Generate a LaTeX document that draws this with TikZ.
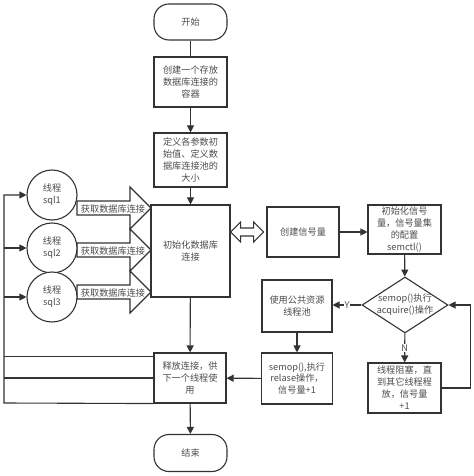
\documentclass[tikz,border=0pt]{standalone}
\usepackage{fontspec}
\setmainfont{Noto Sans CJK SC}
\usetikzlibrary{arrows.meta,shapes.geometric}
\definecolor{linec}{HTML}{333333}
\definecolor{txtc}{HTML}{4D4D4D}
\newcommand{\txtfont}{\fontsize{9.2}{12}\selectfont}
\tikzset{
  plain/.style={draw=linec, line width=1.1bp},
  flow/.style={plain, -{Triangle[length=7bp,width=7bp]}},
  box/.style={plain, fill=white, minimum width=73bp, minimum height=50bp,
    align=center, inner sep=1bp, font=\txtfont, text=txtc},
  term/.style={box, rounded corners=15bp, minimum height=36bp},
  thread/.style={plain, fill=white, circle, minimum size=50bp, inner sep=0bp,
    align=center, font=\txtfont, text=txtc},
  decision/.style={plain, fill=white, diamond, minimum width=86bp,
    minimum height=56bp, inner sep=0bp},
  txt/.style={align=center, font=\txtfont, text=txtc, inner sep=1bp},
  bigarrow/.style={plain, fill=white}
}
\begin{document}
\begin{tikzpicture}[x=1bp, y=-1bp]
  \useasboundingbox (0,0) rectangle (474,476);

  % main column
  \node[term] (start) at (190.5,22) {开始};
  \node[box] (box1) at (190.5,82) {创建一个存放\\数据库连接的\\容器};
  \node[box, minimum height=54bp] (box2) at (190.5,160) {定义各参数初\\始值、定义数\\据库连接池的\\大小};
  \node[box, minimum width=79bp, minimum height=92bp] (init) at (190.5,251) {初始化数据库\\连接};
  \node[box, minimum width=72bp] (release) at (190,378) {释放连接，供\\下一个线程使\\用};
  \node[term, minimum height=37bp] (end) at (190.5,453) {结束};

  \draw[plain] (start) -- (box1);
  \draw[flow] (box1) -- (box2);
  \draw[flow] (box2) -- (init);
  \draw[flow] (init) -- (release);
  \draw[flow] (release) -- (end);

  % threads
  \foreach \y/\n in {208/1,250/2,292/3} {
    \draw[bigarrow] (77,\y-7) -- (130,\y-7) -- (130,\y-21) -- (151,\y)
      -- (130,\y+21) -- (130,\y+7) -- (77,\y+7) -- cycle;
    \node[txt] (get\n) at (113,\y+1) {获取数据库连接};
  }
  \node[thread] (sql1) at (52,195) {线程\\sql1};
  \node[thread] (sql2) at (52,248) {线程\\sql2};
  \node[thread] (sql3) at (52,297) {线程\\sql3};

  % back to the threads
  \coordinate (back) at (4,403);
  \coordinate (r1) at ([yshift=-4bp]release.north west);
  \draw[flow] (release.south west) -- (back) |- (sql1.west);
  \draw[flow] (back |- sql2.west) -- (sql2.west);
  \draw[flow] (back |- sql3.west) -- (sql3.west);
  \draw[plain] (r1) -- (back |- r1);
  \draw[plain] (release.west) -- (back |- release.west);

  % semaphore
  \node[box, minimum width=72bp] (sem) at (303,232) {创建信号量};
  \node[box, minimum height=49bp] (semcfg) at (404.5,229.5) {初始化信号\\量，信号量集\\的配置\\semctl()};
  \node[decision, label={[txt]center:{semop()执行\\acquire()操作}}] (acq) at (405,305) {};
  \node[box, minimum width=70bp, minimum height=52bp] (pool) at (297,306) {使用公共资源\\线程池};
  \node[box, minimum width=71bp, minimum height=51bp] (rel2) at (297,378.5) {semop(),执行\\relase操作，\\信号量+1};
  \node[box, minimum height=50bp] (block) at (404.5,388) {线程阻塞，直\\到其它线程程\\放，信号量\\+1};

  \draw[bigarrow] (init.east |- sem.west) -- ++(10,-10) -- ++(0,6) -- ++(13,0)
    -- ++(0,-6) -- ++(10,10) -- ++(-10,10) -- ++(0,-6) -- ++(-13,0)
    -- ++(0,6) -- cycle;
  \draw[flow] (sem.east) -- (semcfg.west |- sem.east);
  \draw[flow] (semcfg) -- (acq);
  \draw[flow] (acq.west) -- node[txt, fill=white, pos=0.5] {Y} (pool.east |- acq.west);
  \draw[flow] (acq) -- node[txt, fill=white, pos=0.5] {N} (block);
  \draw[flow] (block.east) -- ++(29,0) |- (acq.east);
  \draw[flow] (pool) -- (rel2);
  \draw[flow] (rel2) -- (release);
\end{tikzpicture}
\end{document}
